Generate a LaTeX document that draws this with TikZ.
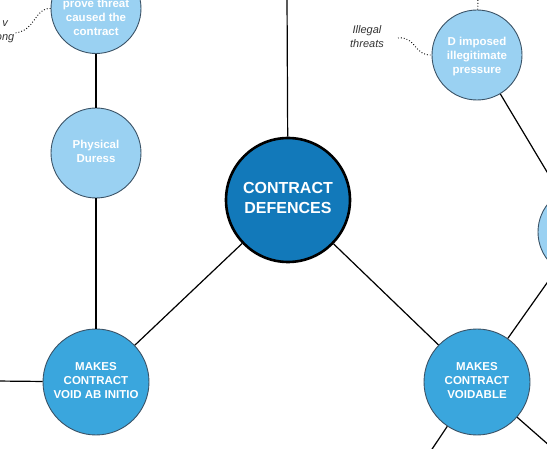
\documentclass[tikz,border=0pt]{standalone}
\usepackage{fontspec}
\setmainfont{Liberation Sans}
\usepackage{tikz}

\definecolor{coreblue}{RGB}{18,121,186}
\definecolor{midblue}{RGB}{58,166,221}
\definecolor{paleblue}{RGB}{154,209,242}
\definecolor{rimgrey}{RGB}{58,82,102}
\definecolor{notegrey}{RGB}{51,51,51}

\tikzset{
  corecirc/.style={circle, draw=black, line width=2.6pt, fill=coreblue, text=white,
    minimum size=124pt, inner sep=0pt, align=center, text depth=4pt,
    font=\bfseries\fontsize{16}{20}\selectfont},
  effectcirc/.style={circle, draw=rimgrey, line width=0.9pt, fill=midblue, text=white,
    minimum size=106pt, inner sep=0pt, align=center, text depth=4pt,
    font=\bfseries\fontsize{11.5}{14}\selectfont},
  pointcirc/.style={circle, draw=rimgrey, line width=0.9pt, fill=paleblue, text=white,
    minimum size=90pt, inner sep=0pt, align=center, text depth=3pt,
    font=\bfseries\fontsize{11.5}{14}\selectfont},
  link/.style={draw=black, line width=1.2pt},
  notelink/.style={draw=black, line width=0.9pt, dotted},
  casenote/.style={text=notegrey, align=center, inner sep=0pt, font=\itshape\fontsize{11}{14}\selectfont}
}

\begin{document}
\begin{tikzpicture}[x=1pt, y=-1pt]
    \useasboundingbox (0,0) rectangle (547,449);

    % Centre of the map
    \node[corecirc] (centre) at (288,200) {CONTRACT\\DEFENCES};
    \coordinate (upend) at (287,-5);
    \draw[link] (centre) -- (upend);

    % Left branch - void ab initio
    \node[effectcirc] (void) at (96,382) {MAKES\\CONTRACT\\VOID AB INITIO};
    \node[pointcirc] (physical) at (96,153) {Physical\\Duress};
    \node[pointcirc] (causation) at (96,8.5) {};
    \node[text=white, align=center, inner sep=0pt,
          font=\bfseries\fontsize{11.5}{14}\selectfont] (causetext) at (96,17.5)
          {prove threat\\caused the\\contract};
    \coordinate (leftend) at (-5,381);
    \draw[link] (void) -- (centre);
    \draw[link] (void) -- (leftend);
    \draw[link] (physical) -- (void);
    \draw[link] (causation) -- (physical);

    % Case note on the left
    \node[casenote, anchor=east] (leftcase) at (14.5,31.5) {v\hspace{6pt}\\ong};
    \draw[notelink] (causation.west) .. controls (34,8) and (36,31) .. (leftcase.east |- 0,33);

    % Right branch - voidable
    \node[effectcirc] (voidable) at (477,382) {MAKES\\CONTRACT\\VOIDABLE};
    \node[pointcirc, text depth=0pt] (pressure) at (477,55) {D imposed\\illegitimate\\pressure};
    \node[pointcirc] (rightpt) at (583,232) {};
    \coordinate (lowleft) at (410,482);
    \coordinate (lowright) at (567,461);
    \coordinate (presstop) at (478,-5);
    \draw[link] (centre) -- (voidable);
    \draw[link] (voidable) -- (rightpt);
    \draw[link] (pressure) -- (rightpt);
    \draw[link] (voidable) -- (lowleft);
    \draw[link] (voidable) -- (lowright);
    \draw[notelink] (pressure) -- (presstop);

    % Note on illegal threats
    \node[casenote] (threats) at (367,37) {Illegal\\threats};
    \draw[notelink] (398,38) .. controls (416,36) and (414,56) .. (pressure.west);
\end{tikzpicture}
\end{document}
